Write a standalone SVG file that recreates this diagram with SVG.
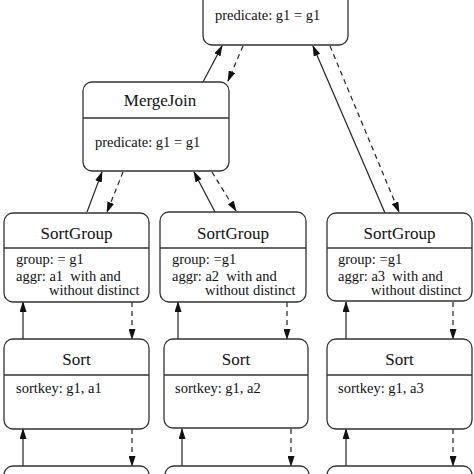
<svg xmlns="http://www.w3.org/2000/svg" width="474" height="474" viewBox="0 0 474 474">
<defs>
<style>
.box{fill:#fff;stroke:#333;stroke-width:1.3}
.div{stroke:#333;stroke-width:1.3}
.t{font-family:"Liberation Serif","Times New Roman",serif;font-size:17px;fill:#111;text-anchor:middle}
.b{font-family:"Liberation Serif","Times New Roman",serif;font-size:14.5px;fill:#111}
.s{stroke:#222;stroke-width:1.2;fill:none;marker-end:url(#ah)}
.d{stroke:#222;stroke-width:1.2;fill:none;stroke-dasharray:5 4;marker-end:url(#ah)}
</style>
<marker id="ah" markerUnits="userSpaceOnUse" markerWidth="11" markerHeight="7" refX="10" refY="3.5" orient="auto">
<path d="M0,0 L11,3.5 L0,7 z" fill="#111"/>
</marker>
</defs>
<rect width="474" height="474" fill="#fff"/>
<g id="connectors">
<line class="s" x1="203" y1="82" x2="222" y2="46"/>
<line class="d" x1="243" y1="46" x2="228" y2="81"/>
<line class="s" x1="87" y1="212" x2="102" y2="172"/>
<line class="d" x1="123" y1="172" x2="107" y2="212"/>
<line class="s" x1="215" y1="212" x2="194" y2="172"/>
<line class="d" x1="212" y1="172" x2="236" y2="211"/>
<line class="s" x1="385" y1="213" x2="313" y2="46"/>
<line class="d" x1="330" y1="46" x2="399" y2="212"/>
<line class="s" x1="23" y1="339" x2="23" y2="302"/>
<line class="d" x1="132" y1="302" x2="132" y2="339"/>
<line class="s" x1="23" y1="466" x2="23" y2="429"/>
<line class="d" x1="132" y1="429" x2="132" y2="466"/>
<line class="s" x1="178" y1="339" x2="178" y2="302"/>
<line class="d" x1="287" y1="302" x2="287" y2="339"/>
<line class="s" x1="182" y1="466" x2="182" y2="429"/>
<line class="d" x1="291" y1="429" x2="291" y2="466"/>
<line class="s" x1="346" y1="339" x2="346" y2="302"/>
<line class="d" x1="453" y1="302" x2="453" y2="339"/>
<line class="s" x1="346" y1="466" x2="346" y2="429"/>
<line class="d" x1="453" y1="429" x2="453" y2="466"/>
</g>
<g id="top">
<rect class="box" x="203" y="-40" width="145" height="85" rx="9"/>
<text class="b" x="215" y="20">predicate: g1 = g1</text>
</g>
<g id="mergejoin">
<rect class="box" x="83" y="82" width="146" height="89" rx="9"/>
<line class="div" x1="83" y1="118" x2="229" y2="118"/>
<text class="t" x="160" y="106">MergeJoin</text>
<text class="b" x="95" y="147">predicate: g1 = g1</text>
</g>
<g id="sortgroup1">
<rect class="box" x="4" y="213" width="145" height="89" rx="9"/>
<line class="div" x1="4" y1="248" x2="149" y2="248"/>
<text class="t" x="76.5" y="239">SortGroup</text>
<text class="b" x="16" y="264">group: = g1</text>
<text class="b" x="16" y="281" xml:space="preserve">aggr: a1  with and</text>
<text class="b" x="49" y="295">without distinct</text>
</g>
<g id="sortgroup2">
<rect class="box" x="160" y="212" width="146" height="90" rx="9"/>
<line class="div" x1="160" y1="248" x2="306" y2="248"/>
<text class="t" x="233" y="239">SortGroup</text>
<text class="b" x="172" y="264">group: =g1</text>
<text class="b" x="172" y="281" xml:space="preserve">aggr: a2  with and</text>
<text class="b" x="205" y="295">without distinct</text>
</g>
<g id="sortgroup3">
<rect class="box" x="327" y="213" width="145" height="88" rx="9"/>
<line class="div" x1="327" y1="248" x2="472" y2="248"/>
<text class="t" x="399.5" y="239">SortGroup</text>
<text class="b" x="338" y="264">group: =g1</text>
<text class="b" x="338" y="281" xml:space="preserve">aggr: a3  with and</text>
<text class="b" x="371" y="295">without distinct</text>
</g>
<g id="sort1">
<rect class="box" x="4" y="339" width="145" height="90" rx="9"/>
<line class="div" x1="4" y1="375" x2="149" y2="375"/>
<text class="t" x="76.5" y="365">Sort</text>
<text class="b" x="16" y="393">sortkey: g1, a1</text>
</g>
<g id="sort2">
<rect class="box" x="164" y="339" width="144" height="89" rx="9"/>
<line class="div" x1="164" y1="375" x2="308" y2="375"/>
<text class="t" x="236" y="365">Sort</text>
<text class="b" x="175" y="393">sortkey: g1, a2</text>
</g>
<g id="sort3">
<rect class="box" x="327" y="339" width="145" height="90" rx="9"/>
<line class="div" x1="327" y1="375" x2="472" y2="375"/>
<text class="t" x="399.5" y="365">Sort</text>
<text class="b" x="338" y="393">sortkey: g1, a3</text>
</g>
<g id="bottom1"><rect class="box" x="4" y="466" width="145" height="40" rx="9"/></g>
<g id="bottom2"><rect class="box" x="165" y="466" width="144" height="40" rx="9"/></g>
<g id="bottom3"><rect class="box" x="327" y="466" width="145" height="40" rx="9"/></g>
</svg>
